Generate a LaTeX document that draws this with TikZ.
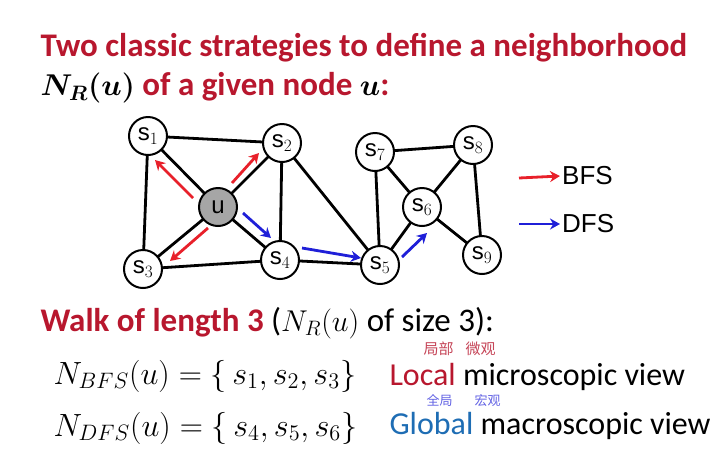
\documentclass[tikz,border=0pt]{standalone}
\usepackage{amsmath,bm}
\usepackage{fontspec}
\setmainfont{Carlito}
\newfontfamily\arialf{Liberation Sans}
\newfontfamily\cjk{Noto Sans CJK SC}
\usetikzlibrary{arrows.meta}
\definecolor{tred}{HTML}{B8172E}
\definecolor{gblue}{HTML}{1E6DB4}
\definecolor{ared}{HTML}{E8202A}
\definecolor{ablue}{HTML}{1F1FD8}
\newcommand{\mymath}[2]{\scalebox{#1}{\fontsize{20}{22}\selectfont$#2$}}
\begin{document}
\begin{tikzpicture}[x=1pt,y=-1pt,
  vtx/.style={circle,draw,line width=2pt,minimum size=38pt,inner sep=0pt,fill=white,font=\arialf\fontsize{24}{26}\selectfont},
  edge/.style={line width=2.8pt},
  rarr/.style={draw=ared,line width=2.8pt,-{Stealth[length=10pt,width=11pt]}},
  barr/.style={draw=ablue,line width=2.8pt,-{Stealth[length=10pt,width=11pt]}}]
\useasboundingbox (0,0) rectangle (720,451);
\fill[white] (0,0) rectangle (720,451);
\node[anchor=west,text=tred,font=\bfseries\fontsize{33}{36}\selectfont] (t1) at (37,48) {Two classic strategies to define a neighborhood};
\node[anchor=west,font=\bfseries\fontsize{33}{36}\selectfont] (t2) at (37,88) {\mymath{1.45}{\bm{N_R(u)}} \textcolor{tred}{of a given node} \mymath{1.45}{\bm{u}}\textcolor{tred}{:}};
\coordinate (s1) at (148,136); \coordinate (s2) at (282,143); \coordinate (u) at (218,207);
\coordinate (s3) at (143,269); \coordinate (s4) at (280,260); \coordinate (s5) at (380,265);
\coordinate (s7) at (375,152); \coordinate (s8) at (473,145); \coordinate (s6) at (422,207);
\coordinate (s9) at (482,255);
\foreach \a/\b in {s1/s2,s1/s3,s1/u,u/s2,u/s3,u/s4,s2/s4,s2/s5,s3/s4,s4/s5,s5/s7,s5/s6,s7/s6,s7/s8,s8/s6,s8/s9,s6/s9}
  \draw[edge] (\a) -- (\b);
\node[vtx] (n1) at (s1) {s$_1$};
\node[vtx] (n2) at (s2) {s$_2$};
\node[vtx,fill=gray!70] (nu) at (u) {u};
\node[vtx] (n3) at (s3) {s$_3$};
\node[vtx] (n4) at (s4) {s$_4$};
\node[vtx] (n5) at (s5) {s$_5$};
\node[vtx] (n7) at (s7) {s$_7$};
\node[vtx] (n8) at (s8) {s$_8$};
\node[vtx] (n6) at (s6) {s$_6$};
\node[vtx] (n9) at (s9) {s$_9$};
\coordinate (a1) at (193,198); \coordinate (b1) at (155,160);
\coordinate (a2) at (232,183); \coordinate (b2) at (259,153);
\coordinate (a3) at (208,228); \coordinate (b3) at (170,261);
\coordinate (a4) at (243,213); \coordinate (b4) at (271,238);
\coordinate (a5) at (302,248); \coordinate (b5) at (361,258);
\coordinate (a6) at (402,257); \coordinate (b6) at (427,233);
\draw[rarr] (a1) -- (b1); \draw[rarr] (a2) -- (b2); \draw[rarr] (a3) -- (b3);
\draw[barr] (a4) -- (b4); \draw[barr] (a5) -- (b5); \draw[barr] (a6) -- (b6);
\coordinate (l1) at (519,178); \coordinate (l2) at (519,224);
\node[anchor=west,inner sep=2pt,font=\arialf\fontsize{26}{28}\selectfont] (bfs) at (560,176) {BFS};
\node[anchor=west,inner sep=2pt,font=\arialf\fontsize{26}{28}\selectfont] (dfs) at (560,224) {DFS};
\draw[rarr] (l1) -- (bfs.west); \draw[barr] (l2) -- (dfs.west);
\node[anchor=west,font=\fontsize{33}{36}\selectfont] (w) at (37,323) {\textcolor{tred}{\bfseries Walk of length 3} (\mymath{1.45}{N_R(u)} of size 3):};
\node[anchor=west] (e1) at (50,376) {\mymath{1.55}{N_{BFS}(u)=\{\,s_1,s_2,s_3\}}};
\node[anchor=west] (e2) at (50,428) {\mymath{1.55}{N_{DFS}(u)=\{\,s_4,s_5,s_6\}}};
\node[anchor=west,font=\fontsize{32}{34}\selectfont] (v1) at (386,377) {\textcolor{tred}{Local} microscopic view};
\node[anchor=west,font=\fontsize{32}{34}\selectfont] (v2) at (386,426) {\textcolor{gblue}{Global} macroscopic view};
\node[anchor=west,text=tred!80,font=\cjk\fontsize{15}{17}\selectfont] (c1) at (420,349) {局部\hspace{12pt}微观};
\node[anchor=west,text=ablue!70,font=\cjk\fontsize{13}{15}\selectfont] (c2) at (423,400) {全局\hspace{22pt}宏观};
\end{tikzpicture}
\end{document}
